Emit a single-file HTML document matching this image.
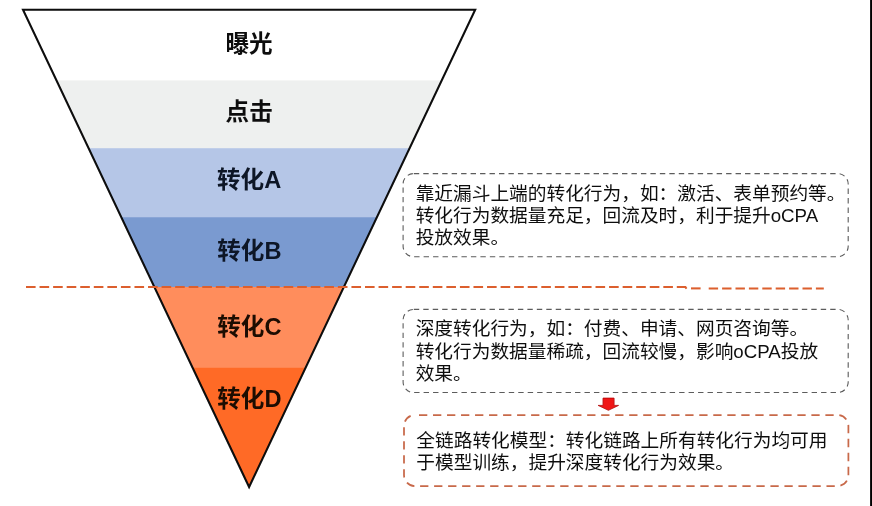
<!DOCTYPE html>
<html lang="zh-CN">
<head>
<meta charset="utf-8">
<title>oCPA 转化漏斗</title>
<style>
html,body{margin:0;padding:0;background:#fff;overflow:hidden;}
body{width:872px;height:506px;font-family:"Liberation Sans",sans-serif;}
.page{position:relative;width:872px;height:506px;overflow:hidden;background:#fff;}
.t{position:absolute;white-space:nowrap;line-height:1.2;color:transparent;font-family:"Liberation Sans",sans-serif;overflow:hidden;}
</style>
</head>
<body>
<div class="page">
<svg width="872" height="506" viewBox="0 0 872 506" style="position:absolute;left:0;top:0;display:block"><defs><filter id="soft" x="0" y="0" width="872" height="506" filterUnits="userSpaceOnUse"><feGaussianBlur stdDeviation="0.4"/></filter></defs><rect width="872" height="506" fill="#fff"/><g filter="url(#soft)"><clipPath id="tri"><path d="M23.0 9.7L475.2 9.7L249.1 487.0Z"/></clipPath>
<g clip-path="url(#tri)"><rect x="0" y="9.6" width="500" height="71.3" fill="#ffffff"/><rect x="0" y="80.4" width="500" height="68.3" fill="#eef0ef"/><rect x="0" y="148.2" width="500" height="69.5" fill="#b5c6e7"/><rect x="0" y="217.2" width="500" height="70.3" fill="#7a9ad0"/><rect x="0" y="287.0" width="500" height="81.3" fill="#ff8d5c"/><rect x="0" y="367.8" width="500" height="121.7" fill="#ff6a26"/></g>
<path d="M23.0 9.7L475.2 9.7L249.1 487.0Z" fill="none" stroke="#0a0a0a" stroke-width="2.05" stroke-linejoin="miter"/>
<path d="M26 287H686.2" stroke="#dc5e2d" stroke-width="2.05" stroke-dasharray="9.6 3.96" fill="none"/>
<path d="M676.9 287H685.2L686.6 288.6" stroke="#dc5e2d" stroke-width="2" fill="none"/>
<path d="M691 288.4H700.6" stroke="#dc5e2d" stroke-width="2.05" fill="none"/>
<path d="M708.7 288.4H823.8" stroke="#dc5e2d" stroke-width="2.05" stroke-dasharray="9.4 4" fill="none"/>
<rect x="403.1" y="173.6" width="445.1" height="83.1" rx="10.5" ry="10.5" fill="none" stroke="#5c5c5c" stroke-width="1.1" stroke-dasharray="5.4 4.064" stroke-dashoffset="9.264"/>
<rect x="403.1" y="309.4" width="445.1" height="83.1" rx="10.5" ry="10.5" fill="none" stroke="#5c5c5c" stroke-width="1.1" stroke-dasharray="5.4 4.064" stroke-dashoffset="9.264"/>
<rect x="404.0" y="415.0" width="444.4" height="71.1" rx="11" ry="11" fill="none" stroke="#c8694a" stroke-width="1.75" stroke-dasharray="8.3 5.713" stroke-dashoffset="10.013"/>
<path d="M603 398.1H614.1V405.4H618.6L608.4 410.3L598.1 405.4H603Z" fill="#f01414" stroke="#b31010" stroke-width="0.8" stroke-linejoin="round"/>
<g font-family="'Liberation Sans','Noto Sans CJK SC',sans-serif" font-size="23.6" font-weight="700">
<text x="225.45" y="52.2" fill="#111">曝光</text>
<text x="225.55" y="119.5" fill="#111">点击</text>
<text x="217.02" y="187.6" fill="#0e1626">转化A</text>
<text x="217.23" y="259.3" fill="#0e1626">转化B</text>
<text x="217.25" y="335.1" fill="#1c0c06">转化C</text>
<text x="217.23" y="406.6" fill="#1c0c06">转化D</text>
</g>
<g font-family="'Liberation Sans','Noto Sans CJK SC',sans-serif" font-size="18.7" font-weight="400" fill="#111">
<text x="415.66" y="199.6">靠近漏斗上端的转化行为，如：激活、表单预约等。</text>
<text x="415.66" y="221.9">转化行为数据量充足，回流及时，利于提升oCPA</text>
<text x="415.66" y="244.2">投放效果。</text>
<text x="415.66" y="335.45">深度转化行为，如：付费、申请、网页咨询等。</text>
<text x="415.66" y="357.75">转化行为数据量稀疏，回流较慢，影响oCPA投放</text>
<text x="415.66" y="380.05">效果。</text>
<text x="416.36" y="447">全链路转化模型：转化链路上所有转化行为均可用</text>
<text x="416.36" y="469.3">于模型训练，提升深度转化行为效果。</text>
</g></g><rect id="bar" x="870.1" y="0" width="1.9" height="506" fill="#000"/></svg>
<div class="t" style="left:225.6px;top:29.8px;width:52.6px;font-size:22.9px;font-weight:700">曝光</div>
<div class="t" style="left:225.7px;top:97.1px;width:52.6px;font-size:22.9px;font-weight:700">点击</div>
<div class="t" style="left:217.2px;top:165.2px;width:68.7px;font-size:22.9px;font-weight:700">转化A</div>
<div class="t" style="left:217.4px;top:236.9px;width:68.6px;font-size:22.9px;font-weight:700">转化B</div>
<div class="t" style="left:217.4px;top:312.7px;width:68.0px;font-size:22.9px;font-weight:700">转化C</div>
<div class="t" style="left:217.4px;top:384.2px;width:70.4px;font-size:22.9px;font-weight:700">转化D</div>
<div class="t" style="left:416.2px;top:181.4px;width:436.1px;font-size:18.6px;font-weight:400">靠近漏斗上端的转化行为，如：激活、表单预约等。</div>
<div class="t" style="left:416.2px;top:203.7px;width:408.6px;font-size:18.6px;font-weight:400">转化行为数据量充足，回流及时，利于提升oCPA</div>
<div class="t" style="left:416.2px;top:226.0px;width:99.5px;font-size:18.6px;font-weight:400">投放效果。</div>
<div class="t" style="left:416.2px;top:317.2px;width:398.7px;font-size:18.6px;font-weight:400">深度转化行为，如：付费、申请、网页咨询等。</div>
<div class="t" style="left:416.2px;top:339.5px;width:408.6px;font-size:18.6px;font-weight:400">转化行为数据量稀疏，回流较慢，影响oCPA投放</div>
<div class="t" style="left:416.2px;top:361.8px;width:62.1px;font-size:18.6px;font-weight:400">效果。</div>
<div class="t" style="left:416.9px;top:428.8px;width:417.4px;font-size:18.6px;font-weight:400">全链路转化模型：转化链路上所有转化行为均可用</div>
<div class="t" style="left:416.9px;top:451.1px;width:323.9px;font-size:18.6px;font-weight:400">于模型训练，提升深度转化行为效果。</div>
</div>
</body>
</html>
